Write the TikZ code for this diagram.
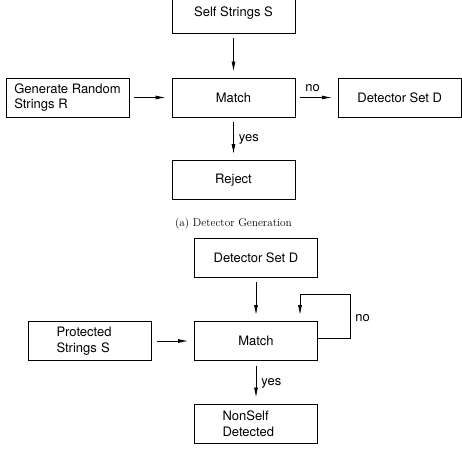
\documentclass[tikz,border=0pt]{standalone}
\usepackage{fontspec}
\newfontfamily\helv{TeX Gyre Heros}
\usetikzlibrary{arrows.meta,positioning}
\tikzset{
  blk/.style={draw, line width=0.9pt, minimum width=123pt, minimum height=39pt,
    inner sep=0pt, align=left, font=\helv\fontsize{13}{15.5}\selectfont},
  txtblk/.style={blk, text width=67pt, inner xsep=28pt},
  arr/.style={line width=0.8pt, -{Latex[length=10pt,width=4pt]}, shorten >=6pt},
  gap/.style={shorten <=5pt},
  lbl/.style={font=\helv\fontsize{13}{15.5}\selectfont, inner sep=2pt}
}
\begin{document}
\begin{tikzpicture}[x=1pt,y=-1pt]
\useasboundingbox (0,0) rectangle (462,462);
% (a) detector generation
\node[blk] (self)   at (233.5,13.5) {Self Strings S};
\node[blk] (matcha) at (233.5,97.5) {Match};
\node[blk] (gen)    at (67.5,97.5)  {Generate Random\\Strings R};
\node[blk] (deta)   at (399.75,97.5) {Detector Set D};
\node[blk] (reject) at (233.5,180)  {Reject};
\node (capa) at (233.5,224) {\fontsize{11.3}{13}\selectfont (a) Detector Generation};

\draw[arr,gap] (self) -- (matcha);
\draw[arr,gap] (gen) -- (matcha);
\draw[arr,gap] (matcha) -- (deta) node[lbl,midway,above,xshift=-4pt,yshift=3pt] {no};
\draw[arr,gap] (matcha) -- (reject) node[lbl,midway,right,xshift=3pt,yshift=-1pt] {yes};

% (b) detection
\node[blk] (detb)    at (256,257.5) {Detector Set D};
\node[blk] (matchb)  at (256,341)   {Match};
\node[txtblk] (prot)    at (90,341)    {Protected\\Strings S};
\node[txtblk] (nonself) at (256,423.5) {NonSelf\\Detected};

\draw[arr,gap] (detb) -- (matchb);
\draw[arr,gap] (prot) -- (matchb);
\draw[arr,gap] (matchb) -- (nonself) node[lbl,midway,right,xshift=3pt,yshift=-1pt] {yes};
\draw[arr] ([yshift=3pt]matchb.east) -| (350,294) node[lbl,pos=0.75,right,xshift=3pt,yshift=-2pt] {no}
  -| ([xshift=44pt]matchb.north);
\end{tikzpicture}
\end{document}
